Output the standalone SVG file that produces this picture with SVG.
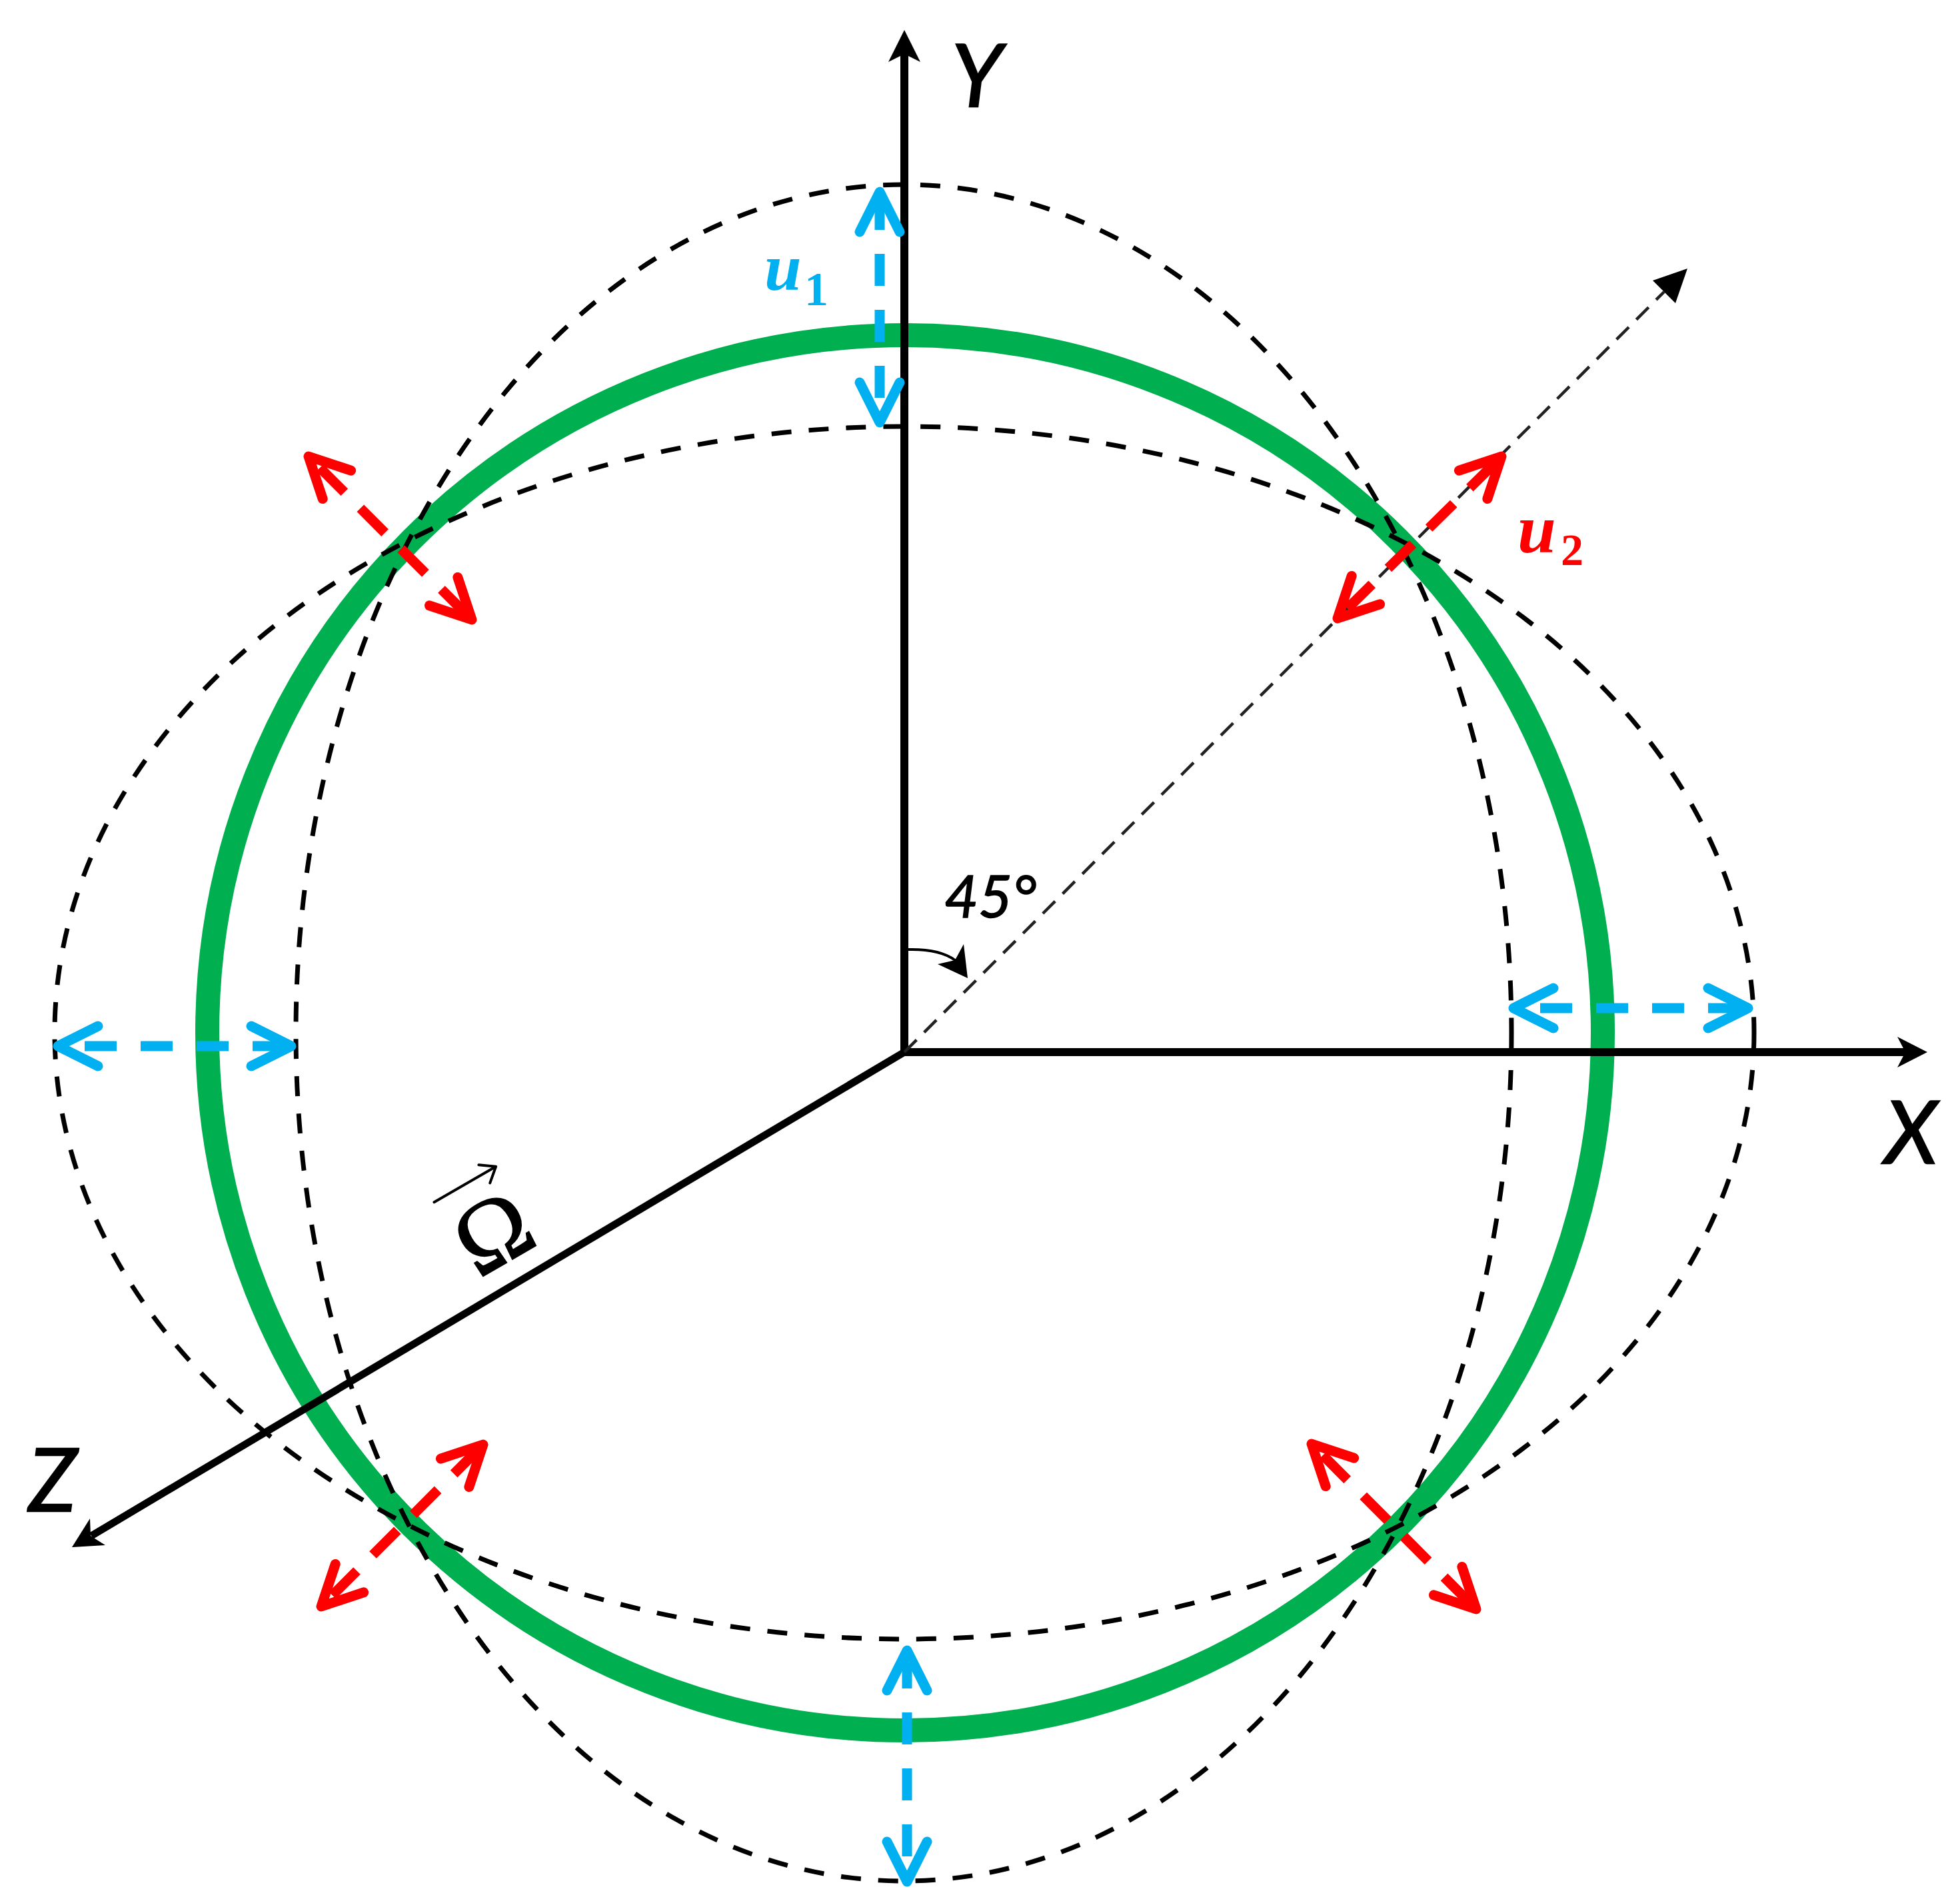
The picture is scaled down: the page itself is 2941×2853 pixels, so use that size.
<svg xmlns="http://www.w3.org/2000/svg" width="2941" height="2853" viewBox="0 0 2941 2853">
<style>
.ell{fill:none;stroke:#000;stroke-width:7;stroke-dasharray:30 26}
.ring{fill:none;stroke:#00B050;stroke-width:36}
.axis{fill:none;stroke:#000;stroke-width:12}
.diag{fill:none;stroke:#222;stroke-width:4.5;stroke-dasharray:26 16}
.thin{fill:none;stroke:#000;stroke-width:4;stroke-linecap:round;stroke-linejoin:round}
.head{fill:none;stroke-width:15;stroke-linecap:round;stroke-linejoin:round}
.bshaft{fill:none;stroke:#00B0F0;stroke-width:15;stroke-dasharray:48 36}
.rshaft{fill:none;stroke:#FF0000;stroke-width:15;stroke-dasharray:52 34}
.blue{stroke:#00B0F0}
.red{stroke:#FF0000}
.lbl{font-family:Lato,'Liberation Sans',sans-serif;font-style:italic;fill:#000;stroke:#000;stroke-width:2.5}
.math{font-family:'Liberation Serif','DejaVu Serif',serif;font-weight:bold}
</style>

<g id="ring"><circle class="ring" cx="1358" cy="1550" r="1047"/></g>
<g id="mode-tall"><ellipse class="ell" cx="1356" cy="1550" rx="912" ry="1273"/></g>
<g id="mode-wide"><ellipse class="ell" cx="1357" cy="1550" rx="1275" ry="910"/></g>

<g id="connectors">
  <!-- axes -->
  <line class="axis" x1="1357" y1="1585" x2="1357" y2="80"/>
  <polygon points="1357,45 1381,93 1357,81 1333,93" fill="#000"/>
  <line class="axis" x1="1351" y1="1579" x2="2859" y2="1579"/>
  <polygon points="2892,1579 2847,1602 2859,1579 2847,1556" fill="#000"/>
  <line class="axis" style="stroke-width:11" x1="1357" y1="1579" x2="137" y2="2305"/>
  <polygon points="108,2322 135,2279 136,2305 158,2319" fill="#000"/>
  <!-- 45 degree direction -->
  <line class="diag" x1="1357" y1="1579" x2="2497" y2="438"/>
  <polygon points="2532,403 2514,455 2480,421" fill="#000"/>
  <path class="thin" d="M1363,1425 Q1410,1424 1433,1441"/>
  <polygon points="1452,1468 1446,1417 1433,1441 1407,1447" fill="#000"/>

  <!-- blue u1 arrows -->
  <line class="bshaft" x1="1320" y1="297" x2="1320" y2="600"/>
  <polyline class="head blue" points="1290,348 1320,288 1350,348"/>
  <polyline class="head blue" points="1290,574 1320,634 1350,574"/>

  <line class="bshaft" x1="127" y1="1570" x2="430" y2="1570"/>
  <polyline class="head blue" points="147,1540 87,1570 147,1600"/>
  <polyline class="head blue" points="377,1540 437,1570 377,1600"/>

  <line class="bshaft" x1="2311" y1="1513" x2="2615" y2="1513"/>
  <polyline class="head blue" points="2331,1483 2271,1513 2331,1543"/>
  <polyline class="head blue" points="2563,1483 2623,1513 2563,1543"/>

  <line class="bshaft" x1="1361" y1="2486" x2="1361" y2="2790"/>
  <polyline class="head blue" points="1331,2537 1361,2477 1391,2537"/>
  <polyline class="head blue" points="1331,2764 1361,2824 1391,2764"/>

  <!-- red u2 arrows -->
  <line class="rshaft" x1="480" y1="702" x2="701" y2="923"/>
  <polyline class="head red" points="526.6,706.2 463,685 484.2,748.6"/>
  <polyline class="head red" points="686.8,866.4 708,930 644.4,908.8"/>

  <line class="rshaft" x1="2242.4" y1="695.6" x2="2014" y2="921"/>
  <polyline class="head red" points="2231.8,748.6 2253,685 2189.4,706.2"/>
  <polyline class="head red" points="2070.6,906.8 2007,928 2028.2,864.4"/>

  <line class="rshaft" x1="717.9" y1="2175.1" x2="489" y2="2404"/>
  <polyline class="head red" points="703.8,2231.6 725,2168 661.4,2189.2"/>
  <polyline class="head red" points="545.6,2389.8 482,2411 503.2,2347.4"/>

  <line class="rshaft" x1="1985" y1="2184" x2="2208" y2="2408"/>
  <polyline class="head red" points="2031.6,2188.2 1968,2167 1989.2,2230.6"/>
  <polyline class="head red" points="2193.8,2351.4 2215,2415 2151.4,2393.8"/>
</g>

<g id="label-Y"><text class="lbl" x="1428" y="160" font-size="130">Y</text></g>
<g id="label-X"><text class="lbl" x="2828" y="1746" font-size="130">X</text></g>
<g id="label-Z"><text class="lbl" x="43" y="2268" font-size="130">Z</text></g>
<g id="label-45"><text class="lbl" x="1417" y="1377" font-size="88" style="stroke-width:1.5">45°</text></g>

<g id="label-u1" fill="#00B0F0">
  <text class="math" x="1147" y="435" font-size="100" font-style="italic">u</text>
  <text class="math" x="1207" y="458" font-size="72">1</text>
</g>
<g id="label-u2" fill="#FF0000">
  <text class="math" x="2277" y="829" font-size="104" font-style="italic">u</text>
  <text class="math" x="2342" y="848" font-size="68">2</text>
</g>

<g id="label-omega" transform="translate(750,1857) rotate(-30)">
  <text x="-5" y="38" font-size="148" text-anchor="middle" font-family="'Liberation Serif','DejaVu Serif',serif" stroke="#000" stroke-width="1.5">Ω</text>
  <path class="thin" d="M-59,-95 L48,-95 M27,-110 L48,-95 L28,-78"/>
</g>
</svg>
